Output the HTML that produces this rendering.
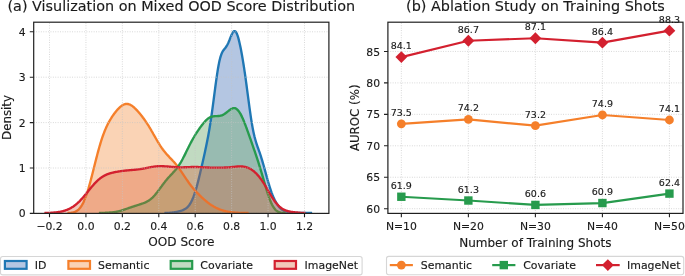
<!DOCTYPE html>
<html lang="en"><head><meta charset="utf-8"><title>OOD Score Distribution and Ablation Study</title>
<style>html,body{margin:0;padding:0;background:#fff;}body{width:685px;height:276px;overflow:hidden;}</style>
</head><body>
<svg width="685" height="276" viewBox="0 0 685 276" style="display:block;font-family:'DejaVu Sans', 'Liberation Sans', sans-serif">
<style>text{stroke:#1a1a1a;stroke-width:0.14px;stroke-linejoin:round}</style>
<rect width="685" height="276" fill="#ffffff"/>
<defs><clipPath id="c1"><rect x="33.7" y="22.2" width="295.2" height="191.2"/></clipPath>
<clipPath id="c2"><rect x="387.9" y="22.2" width="295.1" height="191.2"/></clipPath></defs>
<g clip-path="url(#c1)">
<path d="M164.5 213.1 165.0 213.0 165.5 213.0 166.0 213.0 166.5 213.0 167.0 212.9 167.5 212.9 168.0 212.9 168.5 212.8 169.0 212.8 169.5 212.8 170.0 212.7 170.5 212.7 171.0 212.7 171.5 212.6 172.0 212.6 172.5 212.5 173.0 212.4 173.5 212.4 174.0 212.3 174.5 212.2 175.0 212.2 175.5 212.1 176.0 212.0 176.5 211.9 177.0 211.8 177.5 211.7 178.0 211.6 178.5 211.5 179.0 211.4 179.5 211.2 180.0 211.1 180.5 211.0 181.0 210.8 181.5 210.7 182.0 210.5 182.5 210.3 183.0 210.1 183.5 209.9 184.0 209.6 184.5 209.3 185.0 209.0 185.5 208.7 186.0 208.4 186.5 208.0 187.0 207.6 187.5 207.1 188.0 206.6 188.5 206.0 189.0 205.4 189.5 204.7 190.0 204.0 190.5 203.1 191.0 202.3 191.5 201.3 192.0 200.3 192.5 199.1 193.0 198.0 193.5 196.7 194.0 195.3 194.5 193.9 195.0 192.4 195.5 190.8 196.0 189.2 196.5 187.4 197.0 185.6 197.5 183.8 198.0 181.9 198.5 179.9 199.0 177.9 199.5 175.8 200.0 173.7 200.5 171.6 201.0 169.4 201.5 167.3 202.0 165.1 202.5 162.9 203.0 160.7 203.5 158.4 204.0 156.2 204.5 153.9 205.0 151.7 205.5 149.3 206.0 147.0 206.5 144.6 207.0 142.1 207.5 139.6 208.0 137.0 208.5 134.3 209.0 131.4 209.5 128.5 210.0 125.5 210.5 122.3 211.0 119.0 211.5 115.5 212.0 112.0 212.5 108.3 213.0 104.6 213.5 100.8 214.0 97.0 214.5 93.1 215.0 89.3 215.5 85.5 216.0 81.8 216.5 78.3 217.0 74.8 217.5 71.6 218.0 68.5 218.5 65.7 219.0 63.1 219.5 60.8 220.0 58.7 220.5 56.9 221.0 55.3 221.5 53.9 222.0 52.8 222.5 51.8 223.0 50.9 223.5 50.2 224.0 49.5 224.5 48.9 225.0 48.3 225.5 47.7 226.0 47.0 226.5 46.3 227.0 45.4 227.5 44.5 228.0 43.5 228.5 42.4 229.0 41.2 229.5 40.0 230.0 38.7 230.5 37.4 231.0 36.2 231.5 35.0 232.0 33.9 232.5 33.0 233.0 32.2 233.5 31.6 234.0 31.2 234.5 31.1 235.0 31.2 235.5 31.5 236.0 32.1 236.5 33.0 237.0 34.1 237.5 35.4 238.0 36.9 238.5 38.6 239.0 40.6 239.5 42.7 240.0 44.9 240.5 47.3 241.0 49.8 241.5 52.5 242.0 55.2 242.5 58.1 243.0 61.1 243.5 64.2 244.0 67.4 244.5 70.8 245.0 74.2 245.5 77.7 246.0 81.3 246.5 85.0 247.0 88.8 247.5 92.6 248.0 96.4 248.5 100.2 249.0 103.9 249.5 107.6 250.0 111.2 250.5 114.7 251.0 118.1 251.5 121.2 252.0 124.3 252.5 127.1 253.0 129.7 253.5 132.2 254.0 134.5 254.5 136.6 255.0 138.5 255.5 140.3 256.0 142.0 256.5 143.6 257.0 145.1 257.5 146.6 258.0 148.0 258.5 149.4 259.0 150.8 259.5 152.2 260.0 153.7 260.5 155.2 261.0 156.7 261.5 158.3 262.0 159.9 262.5 161.6 263.0 163.3 263.5 165.0 264.0 166.8 264.5 168.6 265.0 170.4 265.5 172.3 266.0 174.1 266.5 175.9 267.0 177.8 267.5 179.5 268.0 181.3 268.5 183.0 269.0 184.7 269.5 186.3 270.0 187.9 270.5 189.4 271.0 190.9 271.5 192.3 272.0 193.6 272.5 194.9 273.0 196.1 273.5 197.3 274.0 198.4 274.5 199.5 275.0 200.5 275.5 201.4 276.0 202.3 276.5 203.2 277.0 204.0 277.5 204.8 278.0 205.5 278.5 206.1 279.0 206.8 279.5 207.4 280.0 207.9 280.5 208.4 281.0 208.9 281.5 209.3 282.0 209.7 282.5 210.0 283.0 210.3 283.5 210.6 284.0 210.9 284.5 211.1 285.0 211.3 285.5 211.4 286.0 211.6 286.5 211.7 287.0 211.8 287.5 211.9 288.0 212.0 288.5 212.1 289.0 212.2 289.5 212.2 290.0 212.3 290.5 212.4 291.0 212.4 291.5 212.5 292.0 212.5 292.5 212.6 293.0 212.6 293.5 212.7 294.0 212.7 294.5 212.7 295.0 212.8 295.5 212.8 296.0 212.8 296.5 212.9 297.0 212.9 297.5 212.9 298.0 212.9 298.5 212.9 299.0 212.9 299.5 212.9 300.0 212.9 300.5 212.9 301.0 212.9 301.5 212.9 302.0 212.9 302.5 212.9 303.0 212.9 303.5 212.9 304.0 212.9 304.5 212.9 305.0 212.9 305.5 212.9 306.0 212.9 306.5 212.9 307.0 212.9 307.5 212.9 308.0 212.9 308.5 212.9 309.0 213.0 309.5 213.0 310.0 213.0 310.5 213.0 311.0 213.0 311.5 213.0 312.0 213.1 L312.0 213.3 L164.5 213.3 Z" fill="#2a5dac" fill-opacity="0.353" stroke="none"/>
<path d="M67.5 213.1 68.0 213.0 68.5 213.0 69.0 213.0 69.5 213.0 70.0 212.9 70.5 212.9 71.0 212.8 71.5 212.7 72.0 212.7 72.5 212.6 73.0 212.5 73.5 212.3 74.0 212.2 74.5 212.0 75.0 211.8 75.5 211.6 76.0 211.3 76.5 211.1 77.0 210.8 77.5 210.4 78.0 210.0 78.5 209.6 79.0 209.1 79.5 208.5 80.0 208.0 80.5 207.3 81.0 206.6 81.5 205.8 82.0 205.0 82.5 204.1 83.0 203.2 83.5 202.2 84.0 201.1 84.5 199.9 85.0 198.7 85.5 197.4 86.0 196.1 86.5 194.7 87.0 193.2 87.5 191.6 88.0 190.0 88.5 188.4 89.0 186.6 89.5 184.9 90.0 183.1 90.5 181.2 91.0 179.3 91.5 177.4 92.0 175.5 92.5 173.5 93.0 171.5 93.5 169.5 94.0 167.5 94.5 165.5 95.0 163.5 95.5 161.5 96.0 159.6 96.5 157.6 97.0 155.7 97.5 153.8 98.0 151.9 98.5 150.1 99.0 148.3 99.5 146.5 100.0 144.8 100.5 143.1 101.0 141.5 101.5 139.9 102.0 138.4 102.5 136.9 103.0 135.5 103.5 134.1 104.0 132.8 104.5 131.5 105.0 130.3 105.5 129.1 106.0 127.9 106.5 126.8 107.0 125.8 107.5 124.7 108.0 123.7 108.5 122.8 109.0 121.9 109.5 121.0 110.0 120.1 110.5 119.3 111.0 118.4 111.5 117.7 112.0 116.9 112.5 116.1 113.0 115.4 113.5 114.7 114.0 114.0 114.5 113.3 115.0 112.7 115.5 112.0 116.0 111.4 116.5 110.8 117.0 110.2 117.5 109.6 118.0 109.1 118.5 108.6 119.0 108.1 119.5 107.6 120.0 107.1 120.5 106.7 121.0 106.3 121.5 105.9 122.0 105.5 122.5 105.2 123.0 104.9 123.5 104.7 124.0 104.5 124.5 104.3 125.0 104.1 125.5 104.0 126.0 104.0 126.5 103.9 127.0 103.9 127.5 104.0 128.0 104.0 128.5 104.1 129.0 104.3 129.5 104.5 130.0 104.7 130.5 104.9 131.0 105.2 131.5 105.5 132.0 105.8 132.5 106.2 133.0 106.6 133.5 107.0 134.0 107.4 134.5 107.9 135.0 108.3 135.5 108.8 136.0 109.3 136.5 109.9 137.0 110.4 137.5 110.9 138.0 111.5 138.5 112.1 139.0 112.6 139.5 113.2 140.0 113.8 140.5 114.4 141.0 115.1 141.5 115.7 142.0 116.3 142.5 117.0 143.0 117.7 143.5 118.3 144.0 119.0 144.5 119.7 145.0 120.4 145.5 121.1 146.0 121.9 146.5 122.6 147.0 123.4 147.5 124.2 148.0 124.9 148.5 125.7 149.0 126.5 149.5 127.4 150.0 128.2 150.5 129.0 151.0 129.9 151.5 130.8 152.0 131.6 152.5 132.5 153.0 133.4 153.5 134.3 154.0 135.1 154.5 136.0 155.0 136.9 155.5 137.8 156.0 138.7 156.5 139.5 157.0 140.4 157.5 141.2 158.0 142.1 158.5 142.9 159.0 143.7 159.5 144.5 160.0 145.3 160.5 146.1 161.0 146.8 161.5 147.6 162.0 148.3 162.5 149.0 163.0 149.7 163.5 150.3 164.0 151.0 164.5 151.6 165.0 152.2 165.5 152.8 166.0 153.4 166.5 154.0 167.0 154.6 167.5 155.1 168.0 155.7 168.5 156.2 169.0 156.7 169.5 157.3 170.0 157.8 170.5 158.3 171.0 158.8 171.5 159.4 172.0 159.9 172.5 160.4 173.0 161.0 173.5 161.5 174.0 162.1 174.5 162.7 175.0 163.2 175.5 163.8 176.0 164.4 176.5 165.1 177.0 165.7 177.5 166.3 178.0 167.0 178.5 167.7 179.0 168.3 179.5 169.0 180.0 169.7 180.5 170.4 181.0 171.2 181.5 171.9 182.0 172.6 182.5 173.4 183.0 174.1 183.5 174.9 184.0 175.6 184.5 176.4 185.0 177.1 185.5 177.9 186.0 178.6 186.5 179.4 187.0 180.1 187.5 180.8 188.0 181.5 188.5 182.3 189.0 183.0 189.5 183.7 190.0 184.3 190.5 185.0 191.0 185.7 191.5 186.3 192.0 186.9 192.5 187.6 193.0 188.2 193.5 188.8 194.0 189.4 194.5 189.9 195.0 190.5 195.5 191.0 196.0 191.6 196.5 192.1 197.0 192.7 197.5 193.2 198.0 193.7 198.5 194.2 199.0 194.7 199.5 195.2 200.0 195.7 200.5 196.1 201.0 196.6 201.5 197.1 202.0 197.6 202.5 198.0 203.0 198.5 203.5 198.9 204.0 199.4 204.5 199.8 205.0 200.2 205.5 200.7 206.0 201.1 206.5 201.5 207.0 201.9 207.5 202.3 208.0 202.7 208.5 203.1 209.0 203.4 209.5 203.8 210.0 204.2 210.5 204.5 211.0 204.9 211.5 205.2 212.0 205.5 212.5 205.8 213.0 206.1 213.5 206.4 214.0 206.7 214.5 207.0 215.0 207.2 215.5 207.5 216.0 207.8 216.5 208.0 217.0 208.2 217.5 208.5 218.0 208.7 218.5 208.9 219.0 209.1 219.5 209.3 220.0 209.5 220.5 209.7 221.0 209.8 221.5 210.0 222.0 210.2 222.5 210.3 223.0 210.5 223.5 210.6 224.0 210.8 224.5 210.9 225.0 211.0 225.5 211.2 226.0 211.3 226.5 211.4 227.0 211.5 227.5 211.6 228.0 211.7 228.5 211.8 229.0 211.9 229.5 212.0 230.0 212.0 230.5 212.1 231.0 212.2 231.5 212.2 232.0 212.3 232.5 212.3 233.0 212.4 233.5 212.4 234.0 212.5 234.5 212.5 235.0 212.6 235.5 212.6 236.0 212.6 236.5 212.7 237.0 212.7 237.5 212.7 238.0 212.7 238.5 212.8 239.0 212.8 239.5 212.8 240.0 212.8 240.5 212.8 241.0 212.8 241.5 212.9 242.0 212.9 242.5 212.9 243.0 212.9 243.5 212.9 244.0 212.9 244.5 212.9 245.0 213.0 245.5 213.0 246.0 213.0 246.5 213.0 247.0 213.0 247.5 213.0 248.0 213.0 248.5 213.1 L248.5 213.3 L67.5 213.3 Z" fill="#ef7f27" fill-opacity="0.343" stroke="none"/>
<path d="M99.0 213.1 99.5 213.0 100.0 213.0 100.5 213.0 101.0 213.0 101.5 213.0 102.0 212.9 102.5 212.9 103.0 212.9 103.5 212.8 104.0 212.8 104.5 212.8 105.0 212.8 105.5 212.7 106.0 212.7 106.5 212.7 107.0 212.7 107.5 212.6 108.0 212.6 108.5 212.6 109.0 212.6 109.5 212.5 110.0 212.5 110.5 212.5 111.0 212.4 111.5 212.4 112.0 212.3 112.5 212.3 113.0 212.2 113.5 212.2 114.0 212.1 114.5 212.1 115.0 212.0 115.5 211.9 116.0 211.8 116.5 211.7 117.0 211.7 117.5 211.6 118.0 211.4 118.5 211.3 119.0 211.2 119.5 211.1 120.0 211.0 120.5 210.8 121.0 210.7 121.5 210.5 122.0 210.4 122.5 210.2 123.0 210.0 123.5 209.9 124.0 209.7 124.5 209.5 125.0 209.4 125.5 209.2 126.0 209.0 126.5 208.8 127.0 208.7 127.5 208.5 128.0 208.3 128.5 208.1 129.0 207.9 129.5 207.8 130.0 207.6 130.5 207.4 131.0 207.3 131.5 207.1 132.0 206.9 132.5 206.8 133.0 206.6 133.5 206.4 134.0 206.3 134.5 206.1 135.0 205.9 135.5 205.8 136.0 205.6 136.5 205.5 137.0 205.3 137.5 205.2 138.0 205.0 138.5 204.8 139.0 204.7 139.5 204.5 140.0 204.4 140.5 204.2 141.0 204.0 141.5 203.9 142.0 203.7 142.5 203.5 143.0 203.3 143.5 203.2 144.0 203.0 144.5 202.8 145.0 202.6 145.5 202.3 146.0 202.1 146.5 201.9 147.0 201.6 147.5 201.3 148.0 201.0 148.5 200.7 149.0 200.4 149.5 200.1 150.0 199.7 150.5 199.3 151.0 198.9 151.5 198.5 152.0 198.0 152.5 197.6 153.0 197.1 153.5 196.6 154.0 196.0 154.5 195.5 155.0 194.9 155.5 194.3 156.0 193.7 156.5 193.1 157.0 192.4 157.5 191.8 158.0 191.1 158.5 190.5 159.0 189.8 159.5 189.1 160.0 188.4 160.5 187.7 161.0 187.0 161.5 186.4 162.0 185.7 162.5 185.0 163.0 184.3 163.5 183.7 164.0 183.0 164.5 182.4 165.0 181.7 165.5 181.1 166.0 180.5 166.5 179.9 167.0 179.3 167.5 178.7 168.0 178.2 168.5 177.6 169.0 177.0 169.5 176.5 170.0 175.9 170.5 175.4 171.0 174.9 171.5 174.3 172.0 173.8 172.5 173.3 173.0 172.7 173.5 172.2 174.0 171.6 174.5 171.1 175.0 170.5 175.5 169.9 176.0 169.3 176.5 168.7 177.0 168.0 177.5 167.4 178.0 166.7 178.5 165.9 179.0 165.2 179.5 164.4 180.0 163.6 180.5 162.8 181.0 162.0 181.5 161.1 182.0 160.2 182.5 159.3 183.0 158.3 183.5 157.3 184.0 156.4 184.5 155.4 185.0 154.4 185.5 153.4 186.0 152.3 186.5 151.3 187.0 150.3 187.5 149.3 188.0 148.3 188.5 147.2 189.0 146.2 189.5 145.2 190.0 144.3 190.5 143.3 191.0 142.4 191.5 141.4 192.0 140.5 192.5 139.6 193.0 138.7 193.5 137.8 194.0 137.0 194.5 136.1 195.0 135.3 195.5 134.5 196.0 133.7 196.5 132.9 197.0 132.2 197.5 131.4 198.0 130.6 198.5 129.9 199.0 129.2 199.5 128.5 200.0 127.7 200.5 127.1 201.0 126.4 201.5 125.7 202.0 125.0 202.5 124.4 203.0 123.8 203.5 123.1 204.0 122.5 204.5 122.0 205.0 121.4 205.5 120.9 206.0 120.4 206.5 119.9 207.0 119.5 207.5 119.0 208.0 118.6 208.5 118.3 209.0 117.9 209.5 117.6 210.0 117.4 210.5 117.1 211.0 116.9 211.5 116.7 212.0 116.6 212.5 116.5 213.0 116.4 213.5 116.3 214.0 116.2 214.5 116.2 215.0 116.1 215.5 116.1 216.0 116.1 216.5 116.1 217.0 116.1 217.5 116.1 218.0 116.0 218.5 116.0 219.0 116.0 219.5 115.9 220.0 115.8 220.5 115.7 221.0 115.6 221.5 115.4 222.0 115.3 222.5 115.1 223.0 114.8 223.5 114.6 224.0 114.3 224.5 114.0 225.0 113.6 225.5 113.3 226.0 112.9 226.5 112.5 227.0 112.1 227.5 111.7 228.0 111.3 228.5 110.9 229.0 110.5 229.5 110.1 230.0 109.7 230.5 109.4 231.0 109.1 231.5 108.8 232.0 108.6 232.5 108.4 233.0 108.2 233.5 108.1 234.0 108.1 234.5 108.1 235.0 108.2 235.5 108.4 236.0 108.6 236.5 108.9 237.0 109.3 237.5 109.8 238.0 110.3 238.5 110.9 239.0 111.5 239.5 112.3 240.0 113.1 240.5 113.9 241.0 114.9 241.5 115.9 242.0 116.9 242.5 118.0 243.0 119.1 243.5 120.3 244.0 121.5 244.5 122.8 245.0 124.0 245.5 125.3 246.0 126.7 246.5 128.0 247.0 129.4 247.5 130.8 248.0 132.2 248.5 133.6 249.0 135.0 249.5 136.4 250.0 137.8 250.5 139.2 251.0 140.7 251.5 142.1 252.0 143.5 252.5 145.0 253.0 146.4 253.5 147.8 254.0 149.3 254.5 150.7 255.0 152.2 255.5 153.6 256.0 155.1 256.5 156.6 257.0 158.1 257.5 159.6 258.0 161.2 258.5 162.7 259.0 164.3 259.5 165.9 260.0 167.5 260.5 169.2 261.0 170.8 261.5 172.5 262.0 174.2 262.5 175.9 263.0 177.6 263.5 179.3 264.0 181.1 264.5 182.8 265.0 184.5 265.5 186.2 266.0 187.9 266.5 189.6 267.0 191.2 267.5 192.8 268.0 194.3 268.5 195.8 269.0 197.3 269.5 198.6 270.0 200.0 270.5 201.2 271.0 202.4 271.5 203.5 272.0 204.6 272.5 205.5 273.0 206.4 273.5 207.2 274.0 208.0 274.5 208.6 275.0 209.2 275.5 209.8 276.0 210.3 276.5 210.7 277.0 211.1 277.5 211.4 278.0 211.7 278.5 211.9 279.0 212.1 279.5 212.3 280.0 212.4 280.5 212.6 281.0 212.7 281.5 212.8 282.0 212.8 282.5 212.9 283.0 212.9 283.5 213.0 284.0 213.0 284.5 213.0 285.0 213.0 285.5 213.1 L285.5 213.3 L99.0 213.3 Z" fill="#76ad77" fill-opacity="0.454" stroke="none"/>
<path d="M164.5 213.1 165.0 213.0 165.5 213.0 166.0 213.0 166.5 213.0 167.0 212.9 167.5 212.9 168.0 212.9 168.5 212.8 169.0 212.8 169.5 212.8 170.0 212.7 170.5 212.7 171.0 212.7 171.5 212.6 172.0 212.6 172.5 212.5 173.0 212.4 173.5 212.4 174.0 212.3 174.5 212.2 175.0 212.2 175.5 212.1 176.0 212.0 176.5 211.9 177.0 211.8 177.5 211.7 178.0 211.6 178.5 211.5 179.0 211.4 179.5 211.2 180.0 211.1 180.5 211.0 181.0 210.8 181.5 210.7 182.0 210.5 182.5 210.3 183.0 210.1 183.5 209.9 184.0 209.6 184.5 209.3 185.0 209.0 185.5 208.7 186.0 208.4 186.5 208.0 187.0 207.6 187.5 207.1 188.0 206.6 188.5 206.0 189.0 205.4 189.5 204.7 190.0 204.0 190.5 203.1 191.0 202.3 191.5 201.3 192.0 200.3 192.5 199.1 193.0 198.0 193.5 196.7 194.0 195.3 194.5 193.9 195.0 192.4 195.5 190.8 196.0 189.2 196.5 187.4 197.0 185.6 197.5 183.8 198.0 181.9 198.5 179.9 199.0 177.9 199.5 175.8 200.0 173.7 200.5 171.6 201.0 169.4 201.5 167.3 202.0 165.1 202.5 162.9 203.0 160.7 203.5 158.4 204.0 156.2 204.5 153.9 205.0 151.7 205.5 149.3 206.0 147.0 206.5 144.6 207.0 142.1 207.5 139.6 208.0 137.0 208.5 134.3 209.0 131.4 209.5 128.5 210.0 125.5 210.5 122.3 211.0 119.0 211.5 115.5 212.0 112.0 212.5 108.3 213.0 104.6 213.5 100.8 214.0 97.0 214.5 93.1 215.0 89.3 215.5 85.5 216.0 81.8 216.5 78.3 217.0 74.8 217.5 71.6 218.0 68.5 218.5 65.7 219.0 63.1 219.5 60.8 220.0 58.7 220.5 56.9 221.0 55.3 221.5 53.9 222.0 52.8 222.5 51.8 223.0 50.9 223.5 50.2 224.0 49.5 224.5 48.9 225.0 48.3 225.5 47.7 226.0 47.0 226.5 46.3 227.0 45.4 227.5 44.5 228.0 43.5 228.5 42.4 229.0 41.2 229.5 40.0 230.0 38.7 230.5 37.4 231.0 36.2 231.5 35.0 232.0 33.9 232.5 33.0 233.0 32.2 233.5 31.6 234.0 31.2 234.5 31.1 235.0 31.2 235.5 31.5 236.0 32.1 236.5 33.0 237.0 34.1 237.5 35.4 238.0 36.9 238.5 38.6 239.0 40.6 239.5 42.7 240.0 44.9 240.5 47.3 241.0 49.8 241.5 52.5 242.0 55.2 242.5 58.1 243.0 61.1 243.5 64.2 244.0 67.4 244.5 70.8 245.0 74.2 245.5 77.7 246.0 81.3 246.5 85.0 247.0 88.8 247.5 92.6 248.0 96.4 248.5 100.2 249.0 103.9 249.5 107.6 250.0 111.2 250.5 114.7 251.0 118.1 251.5 121.2 252.0 124.3 252.5 127.1 253.0 129.7 253.5 132.2 254.0 134.5 254.5 136.6 255.0 138.5 255.5 140.3 256.0 142.0 256.5 143.6 257.0 145.1 257.5 146.6 258.0 148.0 258.5 149.4 259.0 150.8 259.5 152.2 260.0 153.7 260.5 155.2 261.0 156.7 261.5 158.3 262.0 159.9 262.5 161.6 263.0 163.3 263.5 165.0 264.0 166.8 264.5 168.6 265.0 170.4 265.5 172.3 266.0 174.1 266.5 175.9 267.0 177.8 267.5 179.5 268.0 181.3 268.5 183.0 269.0 184.7 269.5 186.3 270.0 187.9 270.5 189.4 271.0 190.9 271.5 192.3 272.0 193.6 272.5 194.9 273.0 196.1 273.5 197.3 274.0 198.4 274.5 199.5 275.0 200.5 275.5 201.4 276.0 202.3 276.5 203.2 277.0 204.0 277.5 204.8 278.0 205.5 278.5 206.1 279.0 206.8 279.5 207.4 280.0 207.9 280.5 208.4 281.0 208.9 281.5 209.3 282.0 209.7 282.5 210.0 283.0 210.3 283.5 210.6 284.0 210.9 284.5 211.1 285.0 211.3 285.5 211.4 286.0 211.6 286.5 211.7 287.0 211.8 287.5 211.9 288.0 212.0 288.5 212.1 289.0 212.2 289.5 212.2 290.0 212.3 290.5 212.4 291.0 212.4 291.5 212.5 292.0 212.5 292.5 212.6 293.0 212.6 293.5 212.7 294.0 212.7 294.5 212.7 295.0 212.8 295.5 212.8 296.0 212.8 296.5 212.9 297.0 212.9 297.5 212.9 298.0 212.9 298.5 212.9 299.0 212.9 299.5 212.9 300.0 212.9 300.5 212.9 301.0 212.9 301.5 212.9 302.0 212.9 302.5 212.9 303.0 212.9 303.5 212.9 304.0 212.9 304.5 212.9 305.0 212.9 305.5 212.9 306.0 212.9 306.5 212.9 307.0 212.9 307.5 212.9 308.0 212.9 308.5 212.9 309.0 213.0 309.5 213.0 310.0 213.0 310.5 213.0 311.0 213.0 311.5 213.0 312.0 213.1" fill="none" stroke="#1f77b4" stroke-width="2.35" stroke-linejoin="round" stroke-linecap="butt"/>
<path d="M67.5 213.1 68.0 213.0 68.5 213.0 69.0 213.0 69.5 213.0 70.0 212.9 70.5 212.9 71.0 212.8 71.5 212.7 72.0 212.7 72.5 212.6 73.0 212.5 73.5 212.3 74.0 212.2 74.5 212.0 75.0 211.8 75.5 211.6 76.0 211.3 76.5 211.1 77.0 210.8 77.5 210.4 78.0 210.0 78.5 209.6 79.0 209.1 79.5 208.5 80.0 208.0 80.5 207.3 81.0 206.6 81.5 205.8 82.0 205.0 82.5 204.1 83.0 203.2 83.5 202.2 84.0 201.1 84.5 199.9 85.0 198.7 85.5 197.4 86.0 196.1 86.5 194.7 87.0 193.2 87.5 191.6 88.0 190.0 88.5 188.4 89.0 186.6 89.5 184.9 90.0 183.1 90.5 181.2 91.0 179.3 91.5 177.4 92.0 175.5 92.5 173.5 93.0 171.5 93.5 169.5 94.0 167.5 94.5 165.5 95.0 163.5 95.5 161.5 96.0 159.6 96.5 157.6 97.0 155.7 97.5 153.8 98.0 151.9 98.5 150.1 99.0 148.3 99.5 146.5 100.0 144.8 100.5 143.1 101.0 141.5 101.5 139.9 102.0 138.4 102.5 136.9 103.0 135.5 103.5 134.1 104.0 132.8 104.5 131.5 105.0 130.3 105.5 129.1 106.0 127.9 106.5 126.8 107.0 125.8 107.5 124.7 108.0 123.7 108.5 122.8 109.0 121.9 109.5 121.0 110.0 120.1 110.5 119.3 111.0 118.4 111.5 117.7 112.0 116.9 112.5 116.1 113.0 115.4 113.5 114.7 114.0 114.0 114.5 113.3 115.0 112.7 115.5 112.0 116.0 111.4 116.5 110.8 117.0 110.2 117.5 109.6 118.0 109.1 118.5 108.6 119.0 108.1 119.5 107.6 120.0 107.1 120.5 106.7 121.0 106.3 121.5 105.9 122.0 105.5 122.5 105.2 123.0 104.9 123.5 104.7 124.0 104.5 124.5 104.3 125.0 104.1 125.5 104.0 126.0 104.0 126.5 103.9 127.0 103.9 127.5 104.0 128.0 104.0 128.5 104.1 129.0 104.3 129.5 104.5 130.0 104.7 130.5 104.9 131.0 105.2 131.5 105.5 132.0 105.8 132.5 106.2 133.0 106.6 133.5 107.0 134.0 107.4 134.5 107.9 135.0 108.3 135.5 108.8 136.0 109.3 136.5 109.9 137.0 110.4 137.5 110.9 138.0 111.5 138.5 112.1 139.0 112.6 139.5 113.2 140.0 113.8 140.5 114.4 141.0 115.1 141.5 115.7 142.0 116.3 142.5 117.0 143.0 117.7 143.5 118.3 144.0 119.0 144.5 119.7 145.0 120.4 145.5 121.1 146.0 121.9 146.5 122.6 147.0 123.4 147.5 124.2 148.0 124.9 148.5 125.7 149.0 126.5 149.5 127.4 150.0 128.2 150.5 129.0 151.0 129.9 151.5 130.8 152.0 131.6 152.5 132.5 153.0 133.4 153.5 134.3 154.0 135.1 154.5 136.0 155.0 136.9 155.5 137.8 156.0 138.7 156.5 139.5 157.0 140.4 157.5 141.2 158.0 142.1 158.5 142.9 159.0 143.7 159.5 144.5 160.0 145.3 160.5 146.1 161.0 146.8 161.5 147.6 162.0 148.3 162.5 149.0 163.0 149.7 163.5 150.3 164.0 151.0 164.5 151.6 165.0 152.2 165.5 152.8 166.0 153.4 166.5 154.0 167.0 154.6 167.5 155.1 168.0 155.7 168.5 156.2 169.0 156.7 169.5 157.3 170.0 157.8 170.5 158.3 171.0 158.8 171.5 159.4 172.0 159.9 172.5 160.4 173.0 161.0 173.5 161.5 174.0 162.1 174.5 162.7 175.0 163.2 175.5 163.8 176.0 164.4 176.5 165.1 177.0 165.7 177.5 166.3 178.0 167.0 178.5 167.7 179.0 168.3 179.5 169.0 180.0 169.7 180.5 170.4 181.0 171.2 181.5 171.9 182.0 172.6 182.5 173.4 183.0 174.1 183.5 174.9 184.0 175.6 184.5 176.4 185.0 177.1 185.5 177.9 186.0 178.6 186.5 179.4 187.0 180.1 187.5 180.8 188.0 181.5 188.5 182.3 189.0 183.0 189.5 183.7 190.0 184.3 190.5 185.0 191.0 185.7 191.5 186.3 192.0 186.9 192.5 187.6 193.0 188.2 193.5 188.8 194.0 189.4 194.5 189.9 195.0 190.5 195.5 191.0 196.0 191.6 196.5 192.1 197.0 192.7 197.5 193.2 198.0 193.7 198.5 194.2 199.0 194.7 199.5 195.2 200.0 195.7 200.5 196.1 201.0 196.6 201.5 197.1 202.0 197.6 202.5 198.0 203.0 198.5 203.5 198.9 204.0 199.4 204.5 199.8 205.0 200.2 205.5 200.7 206.0 201.1 206.5 201.5 207.0 201.9 207.5 202.3 208.0 202.7 208.5 203.1 209.0 203.4 209.5 203.8 210.0 204.2 210.5 204.5 211.0 204.9 211.5 205.2 212.0 205.5 212.5 205.8 213.0 206.1 213.5 206.4 214.0 206.7 214.5 207.0 215.0 207.2 215.5 207.5 216.0 207.8 216.5 208.0 217.0 208.2 217.5 208.5 218.0 208.7 218.5 208.9 219.0 209.1 219.5 209.3 220.0 209.5 220.5 209.7 221.0 209.8 221.5 210.0 222.0 210.2 222.5 210.3 223.0 210.5 223.5 210.6 224.0 210.8 224.5 210.9 225.0 211.0 225.5 211.2 226.0 211.3 226.5 211.4 227.0 211.5 227.5 211.6 228.0 211.7 228.5 211.8 229.0 211.9 229.5 212.0 230.0 212.0 230.5 212.1 231.0 212.2 231.5 212.2 232.0 212.3 232.5 212.3 233.0 212.4 233.5 212.4 234.0 212.5 234.5 212.5 235.0 212.6 235.5 212.6 236.0 212.6 236.5 212.7 237.0 212.7 237.5 212.7 238.0 212.7 238.5 212.8 239.0 212.8 239.5 212.8 240.0 212.8 240.5 212.8 241.0 212.8 241.5 212.9 242.0 212.9 242.5 212.9 243.0 212.9 243.5 212.9 244.0 212.9 244.5 212.9 245.0 213.0 245.5 213.0 246.0 213.0 246.5 213.0 247.0 213.0 247.5 213.0 248.0 213.0 248.5 213.1" fill="none" stroke="#f57f2a" stroke-width="2.35" stroke-linejoin="round" stroke-linecap="butt"/>
<path d="M99.0 213.1 99.5 213.0 100.0 213.0 100.5 213.0 101.0 213.0 101.5 213.0 102.0 212.9 102.5 212.9 103.0 212.9 103.5 212.8 104.0 212.8 104.5 212.8 105.0 212.8 105.5 212.7 106.0 212.7 106.5 212.7 107.0 212.7 107.5 212.6 108.0 212.6 108.5 212.6 109.0 212.6 109.5 212.5 110.0 212.5 110.5 212.5 111.0 212.4 111.5 212.4 112.0 212.3 112.5 212.3 113.0 212.2 113.5 212.2 114.0 212.1 114.5 212.1 115.0 212.0 115.5 211.9 116.0 211.8 116.5 211.7 117.0 211.7 117.5 211.6 118.0 211.4 118.5 211.3 119.0 211.2 119.5 211.1 120.0 211.0 120.5 210.8 121.0 210.7 121.5 210.5 122.0 210.4 122.5 210.2 123.0 210.0 123.5 209.9 124.0 209.7 124.5 209.5 125.0 209.4 125.5 209.2 126.0 209.0 126.5 208.8 127.0 208.7 127.5 208.5 128.0 208.3 128.5 208.1 129.0 207.9 129.5 207.8 130.0 207.6 130.5 207.4 131.0 207.3 131.5 207.1 132.0 206.9 132.5 206.8 133.0 206.6 133.5 206.4 134.0 206.3 134.5 206.1 135.0 205.9 135.5 205.8 136.0 205.6 136.5 205.5 137.0 205.3 137.5 205.2 138.0 205.0 138.5 204.8 139.0 204.7 139.5 204.5 140.0 204.4 140.5 204.2 141.0 204.0 141.5 203.9 142.0 203.7 142.5 203.5 143.0 203.3 143.5 203.2 144.0 203.0 144.5 202.8 145.0 202.6 145.5 202.3 146.0 202.1 146.5 201.9 147.0 201.6 147.5 201.3 148.0 201.0 148.5 200.7 149.0 200.4 149.5 200.1 150.0 199.7 150.5 199.3 151.0 198.9 151.5 198.5 152.0 198.0 152.5 197.6 153.0 197.1 153.5 196.6 154.0 196.0 154.5 195.5 155.0 194.9 155.5 194.3 156.0 193.7 156.5 193.1 157.0 192.4 157.5 191.8 158.0 191.1 158.5 190.5 159.0 189.8 159.5 189.1 160.0 188.4 160.5 187.7 161.0 187.0 161.5 186.4 162.0 185.7 162.5 185.0 163.0 184.3 163.5 183.7 164.0 183.0 164.5 182.4 165.0 181.7 165.5 181.1 166.0 180.5 166.5 179.9 167.0 179.3 167.5 178.7 168.0 178.2 168.5 177.6 169.0 177.0 169.5 176.5 170.0 175.9 170.5 175.4 171.0 174.9 171.5 174.3 172.0 173.8 172.5 173.3 173.0 172.7 173.5 172.2 174.0 171.6 174.5 171.1 175.0 170.5 175.5 169.9 176.0 169.3 176.5 168.7 177.0 168.0 177.5 167.4 178.0 166.7 178.5 165.9 179.0 165.2 179.5 164.4 180.0 163.6 180.5 162.8 181.0 162.0 181.5 161.1 182.0 160.2 182.5 159.3 183.0 158.3 183.5 157.3 184.0 156.4 184.5 155.4 185.0 154.4 185.5 153.4 186.0 152.3 186.5 151.3 187.0 150.3 187.5 149.3 188.0 148.3 188.5 147.2 189.0 146.2 189.5 145.2 190.0 144.3 190.5 143.3 191.0 142.4 191.5 141.4 192.0 140.5 192.5 139.6 193.0 138.7 193.5 137.8 194.0 137.0 194.5 136.1 195.0 135.3 195.5 134.5 196.0 133.7 196.5 132.9 197.0 132.2 197.5 131.4 198.0 130.6 198.5 129.9 199.0 129.2 199.5 128.5 200.0 127.7 200.5 127.1 201.0 126.4 201.5 125.7 202.0 125.0 202.5 124.4 203.0 123.8 203.5 123.1 204.0 122.5 204.5 122.0 205.0 121.4 205.5 120.9 206.0 120.4 206.5 119.9 207.0 119.5 207.5 119.0 208.0 118.6 208.5 118.3 209.0 117.9 209.5 117.6 210.0 117.4 210.5 117.1 211.0 116.9 211.5 116.7 212.0 116.6 212.5 116.5 213.0 116.4 213.5 116.3 214.0 116.2 214.5 116.2 215.0 116.1 215.5 116.1 216.0 116.1 216.5 116.1 217.0 116.1 217.5 116.1 218.0 116.0 218.5 116.0 219.0 116.0 219.5 115.9 220.0 115.8 220.5 115.7 221.0 115.6 221.5 115.4 222.0 115.3 222.5 115.1 223.0 114.8 223.5 114.6 224.0 114.3 224.5 114.0 225.0 113.6 225.5 113.3 226.0 112.9 226.5 112.5 227.0 112.1 227.5 111.7 228.0 111.3 228.5 110.9 229.0 110.5 229.5 110.1 230.0 109.7 230.5 109.4 231.0 109.1 231.5 108.8 232.0 108.6 232.5 108.4 233.0 108.2 233.5 108.1 234.0 108.1 234.5 108.1 235.0 108.2 235.5 108.4 236.0 108.6 236.5 108.9 237.0 109.3 237.5 109.8 238.0 110.3 238.5 110.9 239.0 111.5 239.5 112.3 240.0 113.1 240.5 113.9 241.0 114.9 241.5 115.9 242.0 116.9 242.5 118.0 243.0 119.1 243.5 120.3 244.0 121.5 244.5 122.8 245.0 124.0 245.5 125.3 246.0 126.7 246.5 128.0 247.0 129.4 247.5 130.8 248.0 132.2 248.5 133.6 249.0 135.0 249.5 136.4 250.0 137.8 250.5 139.2 251.0 140.7 251.5 142.1 252.0 143.5 252.5 145.0 253.0 146.4 253.5 147.8 254.0 149.3 254.5 150.7 255.0 152.2 255.5 153.6 256.0 155.1 256.5 156.6 257.0 158.1 257.5 159.6 258.0 161.2 258.5 162.7 259.0 164.3 259.5 165.9 260.0 167.5 260.5 169.2 261.0 170.8 261.5 172.5 262.0 174.2 262.5 175.9 263.0 177.6 263.5 179.3 264.0 181.1 264.5 182.8 265.0 184.5 265.5 186.2 266.0 187.9 266.5 189.6 267.0 191.2 267.5 192.8 268.0 194.3 268.5 195.8 269.0 197.3 269.5 198.6 270.0 200.0 270.5 201.2 271.0 202.4 271.5 203.5 272.0 204.6 272.5 205.5 273.0 206.4 273.5 207.2 274.0 208.0 274.5 208.6 275.0 209.2 275.5 209.8 276.0 210.3 276.5 210.7 277.0 211.1 277.5 211.4 278.0 211.7 278.5 211.9 279.0 212.1 279.5 212.3 280.0 212.4 280.5 212.6 281.0 212.7 281.5 212.8 282.0 212.8 282.5 212.9 283.0 212.9 283.5 213.0 284.0 213.0 284.5 213.0 285.0 213.0 285.5 213.1" fill="none" stroke="#279b4d" stroke-width="2.35" stroke-linejoin="round" stroke-linecap="butt"/>
<path d="M44.5 213.1 45.0 213.0 45.5 213.0 46.0 213.0 46.5 213.0 47.0 213.0 47.5 212.9 48.0 212.9 48.5 212.9 49.0 212.9 49.5 212.8 50.0 212.8 50.5 212.8 51.0 212.7 51.5 212.7 52.0 212.7 52.5 212.6 53.0 212.6 53.5 212.6 54.0 212.5 54.5 212.5 55.0 212.4 55.5 212.4 56.0 212.3 56.5 212.3 57.0 212.2 57.5 212.2 58.0 212.1 58.5 212.0 59.0 211.9 59.5 211.9 60.0 211.8 60.5 211.7 61.0 211.6 61.5 211.5 62.0 211.4 62.5 211.3 63.0 211.1 63.5 211.0 64.0 210.9 64.5 210.7 65.0 210.6 65.5 210.4 66.0 210.2 66.5 210.0 67.0 209.8 67.5 209.6 68.0 209.4 68.5 209.2 69.0 209.0 69.5 208.7 70.0 208.5 70.5 208.2 71.0 207.9 71.5 207.6 72.0 207.3 72.5 207.0 73.0 206.7 73.5 206.4 74.0 206.0 74.5 205.6 75.0 205.3 75.5 204.9 76.0 204.5 76.5 204.0 77.0 203.6 77.5 203.2 78.0 202.7 78.5 202.2 79.0 201.8 79.5 201.3 80.0 200.8 80.5 200.2 81.0 199.7 81.5 199.2 82.0 198.6 82.5 198.1 83.0 197.5 83.5 196.9 84.0 196.3 84.5 195.7 85.0 195.1 85.5 194.5 86.0 193.9 86.5 193.3 87.0 192.7 87.5 192.0 88.0 191.4 88.5 190.8 89.0 190.2 89.5 189.6 90.0 188.9 90.5 188.3 91.0 187.7 91.5 187.1 92.0 186.5 92.5 185.9 93.0 185.3 93.5 184.8 94.0 184.2 94.5 183.7 95.0 183.1 95.5 182.6 96.0 182.1 96.5 181.6 97.0 181.1 97.5 180.6 98.0 180.2 98.5 179.7 99.0 179.3 99.5 178.9 100.0 178.5 100.5 178.1 101.0 177.8 101.5 177.4 102.0 177.1 102.5 176.7 103.0 176.4 103.5 176.1 104.0 175.9 104.5 175.6 105.0 175.3 105.5 175.1 106.0 174.9 106.5 174.6 107.0 174.4 107.5 174.2 108.0 174.0 108.5 173.9 109.0 173.7 109.5 173.5 110.0 173.4 110.5 173.2 111.0 173.1 111.5 172.9 112.0 172.8 112.5 172.7 113.0 172.6 113.5 172.5 114.0 172.4 114.5 172.2 115.0 172.1 115.5 172.0 116.0 171.9 116.5 171.9 117.0 171.8 117.5 171.7 118.0 171.6 118.5 171.5 119.0 171.4 119.5 171.4 120.0 171.3 120.5 171.2 121.0 171.1 121.5 171.1 122.0 171.0 122.5 170.9 123.0 170.9 123.5 170.8 124.0 170.7 124.5 170.7 125.0 170.6 125.5 170.6 126.0 170.5 126.5 170.5 127.0 170.4 127.5 170.4 128.0 170.3 128.5 170.3 129.0 170.2 129.5 170.2 130.0 170.1 130.5 170.1 131.0 170.1 131.5 170.0 132.0 170.0 132.5 169.9 133.0 169.9 133.5 169.8 134.0 169.8 134.5 169.7 135.0 169.7 135.5 169.7 136.0 169.6 136.5 169.6 137.0 169.5 137.5 169.4 138.0 169.4 138.5 169.3 139.0 169.3 139.5 169.2 140.0 169.1 140.5 169.1 141.0 169.0 141.5 168.9 142.0 168.8 142.5 168.7 143.0 168.7 143.5 168.6 144.0 168.5 144.5 168.4 145.0 168.3 145.5 168.2 146.0 168.1 146.5 168.0 147.0 167.9 147.5 167.8 148.0 167.7 148.5 167.6 149.0 167.5 149.5 167.4 150.0 167.3 150.5 167.2 151.0 167.1 151.5 167.0 152.0 166.9 152.5 166.8 153.0 166.8 153.5 166.7 154.0 166.6 154.5 166.6 155.0 166.5 155.5 166.4 156.0 166.4 156.5 166.3 157.0 166.3 157.5 166.2 158.0 166.2 158.5 166.2 159.0 166.2 159.5 166.2 160.0 166.1 160.5 166.1 161.0 166.1 161.5 166.1 162.0 166.1 162.5 166.2 163.0 166.2 163.5 166.2 164.0 166.2 164.5 166.3 165.0 166.3 165.5 166.3 166.0 166.4 166.5 166.4 167.0 166.4 167.5 166.5 168.0 166.5 168.5 166.6 169.0 166.6 169.5 166.7 170.0 166.7 170.5 166.7 171.0 166.8 171.5 166.8 172.0 166.9 172.5 166.9 173.0 167.0 173.5 167.0 174.0 167.0 174.5 167.1 175.0 167.1 175.5 167.1 176.0 167.1 176.5 167.2 177.0 167.2 177.5 167.2 178.0 167.2 178.5 167.2 179.0 167.3 179.5 167.3 180.0 167.3 180.5 167.3 181.0 167.3 181.5 167.3 182.0 167.3 182.5 167.3 183.0 167.3 183.5 167.3 184.0 167.2 184.5 167.2 185.0 167.2 185.5 167.2 186.0 167.2 186.5 167.2 187.0 167.2 187.5 167.1 188.0 167.1 188.5 167.1 189.0 167.1 189.5 167.1 190.0 167.1 190.5 167.1 191.0 167.0 191.5 167.0 192.0 167.0 192.5 167.0 193.0 167.0 193.5 167.0 194.0 167.0 194.5 167.0 195.0 167.0 195.5 167.0 196.0 167.0 196.5 167.0 197.0 167.0 197.5 167.0 198.0 167.0 198.5 167.1 199.0 167.1 199.5 167.1 200.0 167.1 200.5 167.1 201.0 167.2 201.5 167.2 202.0 167.2 202.5 167.2 203.0 167.3 203.5 167.3 204.0 167.3 204.5 167.3 205.0 167.4 205.5 167.4 206.0 167.4 206.5 167.4 207.0 167.5 207.5 167.5 208.0 167.5 208.5 167.5 209.0 167.5 209.5 167.6 210.0 167.6 210.5 167.6 211.0 167.6 211.5 167.6 212.0 167.6 212.5 167.6 213.0 167.6 213.5 167.6 214.0 167.6 214.5 167.6 215.0 167.6 215.5 167.6 216.0 167.6 216.5 167.6 217.0 167.6 217.5 167.6 218.0 167.6 218.5 167.6 219.0 167.6 219.5 167.6 220.0 167.6 220.5 167.6 221.0 167.6 221.5 167.6 222.0 167.6 222.5 167.6 223.0 167.6 223.5 167.6 224.0 167.6 224.5 167.5 225.0 167.5 225.5 167.5 226.0 167.5 226.5 167.5 227.0 167.4 227.5 167.4 228.0 167.4 228.5 167.3 229.0 167.3 229.5 167.3 230.0 167.2 230.5 167.2 231.0 167.1 231.5 167.1 232.0 167.0 232.5 167.0 233.0 166.9 233.5 166.9 234.0 166.8 234.5 166.8 235.0 166.7 235.5 166.7 236.0 166.6 236.5 166.6 237.0 166.5 237.5 166.5 238.0 166.5 238.5 166.4 239.0 166.4 239.5 166.4 240.0 166.4 240.5 166.4 241.0 166.4 241.5 166.4 242.0 166.5 242.5 166.5 243.0 166.6 243.5 166.6 244.0 166.7 244.5 166.8 245.0 166.9 245.5 167.0 246.0 167.1 246.5 167.3 247.0 167.5 247.5 167.6 248.0 167.8 248.5 168.0 249.0 168.2 249.5 168.5 250.0 168.7 250.5 169.0 251.0 169.3 251.5 169.6 252.0 169.9 252.5 170.3 253.0 170.7 253.5 171.0 254.0 171.4 254.5 171.9 255.0 172.3 255.5 172.8 256.0 173.2 256.5 173.7 257.0 174.3 257.5 174.8 258.0 175.4 258.5 176.0 259.0 176.6 259.5 177.2 260.0 177.9 260.5 178.5 261.0 179.2 261.5 179.9 262.0 180.6 262.5 181.4 263.0 182.2 263.5 182.9 264.0 183.7 264.5 184.5 265.0 185.4 265.5 186.2 266.0 187.0 266.5 187.9 267.0 188.7 267.5 189.6 268.0 190.4 268.5 191.3 269.0 192.1 269.5 193.0 270.0 193.8 270.5 194.7 271.0 195.5 271.5 196.3 272.0 197.1 272.5 197.9 273.0 198.7 273.5 199.4 274.0 200.1 274.5 200.9 275.0 201.5 275.5 202.2 276.0 202.8 276.5 203.5 277.0 204.0 277.5 204.6 278.0 205.2 278.5 205.7 279.0 206.1 279.5 206.6 280.0 207.0 280.5 207.5 281.0 207.8 281.5 208.2 282.0 208.5 282.5 208.9 283.0 209.2 283.5 209.4 284.0 209.7 284.5 209.9 285.0 210.1 285.5 210.3 286.0 210.5 286.5 210.7 287.0 210.9 287.5 211.0 288.0 211.1 288.5 211.3 289.0 211.4 289.5 211.5 290.0 211.6 290.5 211.7 291.0 211.8 291.5 211.9 292.0 211.9 292.5 212.0 293.0 212.1 293.5 212.1 294.0 212.2 294.5 212.2 295.0 212.3 295.5 212.3 296.0 212.4 296.5 212.4 297.0 212.5 297.5 212.5 298.0 212.6 298.5 212.6 299.0 212.7 299.5 212.7 300.0 212.7 300.5 212.8 301.0 212.8 301.5 212.8 302.0 212.9 302.5 212.9 303.0 212.9 303.5 213.0 304.0 213.0 304.5 213.0 305.0 213.0 305.5 213.1 L305.5 213.3 L44.5 213.3 Z" fill="#da5c33" fill-opacity="0.342" stroke="none"/>
<path d="M44.5 213.1 45.0 213.0 45.5 213.0 46.0 213.0 46.5 213.0 47.0 213.0 47.5 212.9 48.0 212.9 48.5 212.9 49.0 212.9 49.5 212.8 50.0 212.8 50.5 212.8 51.0 212.7 51.5 212.7 52.0 212.7 52.5 212.6 53.0 212.6 53.5 212.6 54.0 212.5 54.5 212.5 55.0 212.4 55.5 212.4 56.0 212.3 56.5 212.3 57.0 212.2 57.5 212.2 58.0 212.1 58.5 212.0 59.0 211.9 59.5 211.9 60.0 211.8 60.5 211.7 61.0 211.6 61.5 211.5 62.0 211.4 62.5 211.3 63.0 211.1 63.5 211.0 64.0 210.9 64.5 210.7 65.0 210.6 65.5 210.4 66.0 210.2 66.5 210.0 67.0 209.8 67.5 209.6 68.0 209.4 68.5 209.2 69.0 209.0 69.5 208.7 70.0 208.5 70.5 208.2 71.0 207.9 71.5 207.6 72.0 207.3 72.5 207.0 73.0 206.7 73.5 206.4 74.0 206.0 74.5 205.6 75.0 205.3 75.5 204.9 76.0 204.5 76.5 204.0 77.0 203.6 77.5 203.2 78.0 202.7 78.5 202.2 79.0 201.8 79.5 201.3 80.0 200.8 80.5 200.2 81.0 199.7 81.5 199.2 82.0 198.6 82.5 198.1 83.0 197.5 83.5 196.9 84.0 196.3 84.5 195.7 85.0 195.1 85.5 194.5 86.0 193.9 86.5 193.3 87.0 192.7 87.5 192.0 88.0 191.4 88.5 190.8 89.0 190.2 89.5 189.6 90.0 188.9 90.5 188.3 91.0 187.7 91.5 187.1 92.0 186.5 92.5 185.9 93.0 185.3 93.5 184.8 94.0 184.2 94.5 183.7 95.0 183.1 95.5 182.6 96.0 182.1 96.5 181.6 97.0 181.1 97.5 180.6 98.0 180.2 98.5 179.7 99.0 179.3 99.5 178.9 100.0 178.5 100.5 178.1 101.0 177.8 101.5 177.4 102.0 177.1 102.5 176.7 103.0 176.4 103.5 176.1 104.0 175.9 104.5 175.6 105.0 175.3 105.5 175.1 106.0 174.9 106.5 174.6 107.0 174.4 107.5 174.2 108.0 174.0 108.5 173.9 109.0 173.7 109.5 173.5 110.0 173.4 110.5 173.2 111.0 173.1 111.5 172.9 112.0 172.8 112.5 172.7 113.0 172.6 113.5 172.5 114.0 172.4 114.5 172.2 115.0 172.1 115.5 172.0 116.0 171.9 116.5 171.9 117.0 171.8 117.5 171.7 118.0 171.6 118.5 171.5 119.0 171.4 119.5 171.4 120.0 171.3 120.5 171.2 121.0 171.1 121.5 171.1 122.0 171.0 122.5 170.9 123.0 170.9 123.5 170.8 124.0 170.7 124.5 170.7 125.0 170.6 125.5 170.6 126.0 170.5 126.5 170.5 127.0 170.4 127.5 170.4 128.0 170.3 128.5 170.3 129.0 170.2 129.5 170.2 130.0 170.1 130.5 170.1 131.0 170.1 131.5 170.0 132.0 170.0 132.5 169.9 133.0 169.9 133.5 169.8 134.0 169.8 134.5 169.7 135.0 169.7 135.5 169.7 136.0 169.6 136.5 169.6 137.0 169.5 137.5 169.4 138.0 169.4 138.5 169.3 139.0 169.3 139.5 169.2 140.0 169.1 140.5 169.1 141.0 169.0 141.5 168.9 142.0 168.8 142.5 168.7 143.0 168.7 143.5 168.6 144.0 168.5 144.5 168.4 145.0 168.3 145.5 168.2 146.0 168.1 146.5 168.0 147.0 167.9 147.5 167.8 148.0 167.7 148.5 167.6 149.0 167.5 149.5 167.4 150.0 167.3 150.5 167.2 151.0 167.1 151.5 167.0 152.0 166.9 152.5 166.8 153.0 166.8 153.5 166.7 154.0 166.6 154.5 166.6 155.0 166.5 155.5 166.4 156.0 166.4 156.5 166.3 157.0 166.3 157.5 166.2 158.0 166.2 158.5 166.2 159.0 166.2 159.5 166.2 160.0 166.1 160.5 166.1 161.0 166.1 161.5 166.1 162.0 166.1 162.5 166.2 163.0 166.2 163.5 166.2 164.0 166.2 164.5 166.3 165.0 166.3 165.5 166.3 166.0 166.4 166.5 166.4 167.0 166.4 167.5 166.5 168.0 166.5 168.5 166.6 169.0 166.6 169.5 166.7 170.0 166.7 170.5 166.7 171.0 166.8 171.5 166.8 172.0 166.9 172.5 166.9 173.0 167.0 173.5 167.0 174.0 167.0 174.5 167.1 175.0 167.1 175.5 167.1 176.0 167.1 176.5 167.2 177.0 167.2 177.5 167.2 178.0 167.2 178.5 167.2 179.0 167.3 179.5 167.3 180.0 167.3 180.5 167.3 181.0 167.3 181.5 167.3 182.0 167.3 182.5 167.3 183.0 167.3 183.5 167.3 184.0 167.2 184.5 167.2 185.0 167.2 185.5 167.2 186.0 167.2 186.5 167.2 187.0 167.2 187.5 167.1 188.0 167.1 188.5 167.1 189.0 167.1 189.5 167.1 190.0 167.1 190.5 167.1 191.0 167.0 191.5 167.0 192.0 167.0 192.5 167.0 193.0 167.0 193.5 167.0 194.0 167.0 194.5 167.0 195.0 167.0 195.5 167.0 196.0 167.0 196.5 167.0 197.0 167.0 197.5 167.0 198.0 167.0 198.5 167.1 199.0 167.1 199.5 167.1 200.0 167.1 200.5 167.1 201.0 167.2 201.5 167.2 202.0 167.2 202.5 167.2 203.0 167.3 203.5 167.3 204.0 167.3 204.5 167.3 205.0 167.4 205.5 167.4 206.0 167.4 206.5 167.4 207.0 167.5 207.5 167.5 208.0 167.5 208.5 167.5 209.0 167.5 209.5 167.6 210.0 167.6 210.5 167.6 211.0 167.6 211.5 167.6 212.0 167.6 212.5 167.6 213.0 167.6 213.5 167.6 214.0 167.6 214.5 167.6 215.0 167.6 215.5 167.6 216.0 167.6 216.5 167.6 217.0 167.6 217.5 167.6 218.0 167.6 218.5 167.6 219.0 167.6 219.5 167.6 220.0 167.6 220.5 167.6 221.0 167.6 221.5 167.6 222.0 167.6 222.5 167.6 223.0 167.6 223.5 167.6 224.0 167.6 224.5 167.5 225.0 167.5 225.5 167.5 226.0 167.5 226.5 167.5 227.0 167.4 227.5 167.4 228.0 167.4 228.5 167.3 229.0 167.3 229.5 167.3 230.0 167.2 230.5 167.2 231.0 167.1 231.5 167.1 232.0 167.0 232.5 167.0 233.0 166.9 233.5 166.9 234.0 166.8 234.5 166.8 235.0 166.7 235.5 166.7 236.0 166.6 236.5 166.6 237.0 166.5 237.5 166.5 238.0 166.5 238.5 166.4 239.0 166.4 239.5 166.4 240.0 166.4 240.5 166.4 241.0 166.4 241.5 166.4 242.0 166.5 242.5 166.5 243.0 166.6 243.5 166.6 244.0 166.7 244.5 166.8 245.0 166.9 245.5 167.0 246.0 167.1 246.5 167.3 247.0 167.5 247.5 167.6 248.0 167.8 248.5 168.0 249.0 168.2 249.5 168.5 250.0 168.7 250.5 169.0 251.0 169.3 251.5 169.6 252.0 169.9 252.5 170.3 253.0 170.7 253.5 171.0 254.0 171.4 254.5 171.9 255.0 172.3 255.5 172.8 256.0 173.2 256.5 173.7 257.0 174.3 257.5 174.8 258.0 175.4 258.5 176.0 259.0 176.6 259.5 177.2 260.0 177.9 260.5 178.5 261.0 179.2 261.5 179.9 262.0 180.6 262.5 181.4 263.0 182.2 263.5 182.9 264.0 183.7 264.5 184.5 265.0 185.4 265.5 186.2 266.0 187.0 266.5 187.9 267.0 188.7 267.5 189.6 268.0 190.4 268.5 191.3 269.0 192.1 269.5 193.0 270.0 193.8 270.5 194.7 271.0 195.5 271.5 196.3 272.0 197.1 272.5 197.9 273.0 198.7 273.5 199.4 274.0 200.1 274.5 200.9 275.0 201.5 275.5 202.2 276.0 202.8 276.5 203.5 277.0 204.0 277.5 204.6 278.0 205.2 278.5 205.7 279.0 206.1 279.5 206.6 280.0 207.0 280.5 207.5 281.0 207.8 281.5 208.2 282.0 208.5 282.5 208.9 283.0 209.2 283.5 209.4 284.0 209.7 284.5 209.9 285.0 210.1 285.5 210.3 286.0 210.5 286.5 210.7 287.0 210.9 287.5 211.0 288.0 211.1 288.5 211.3 289.0 211.4 289.5 211.5 290.0 211.6 290.5 211.7 291.0 211.8 291.5 211.9 292.0 211.9 292.5 212.0 293.0 212.1 293.5 212.1 294.0 212.2 294.5 212.2 295.0 212.3 295.5 212.3 296.0 212.4 296.5 212.4 297.0 212.5 297.5 212.5 298.0 212.6 298.5 212.6 299.0 212.7 299.5 212.7 300.0 212.7 300.5 212.8 301.0 212.8 301.5 212.8 302.0 212.9 302.5 212.9 303.0 212.9 303.5 213.0 304.0 213.0 304.5 213.0 305.0 213.0 305.5 213.1" fill="none" stroke="#d3202f" stroke-width="2.35" stroke-linejoin="round" stroke-linecap="butt"/>
</g>
<path d="M49.5 213.4V22.2M85.93 213.4V22.2M122.36 213.4V22.2M158.79 213.4V22.2M195.21 213.4V22.2M231.64 213.4V22.2M268.07 213.4V22.2M304.5 213.4V22.2M33.7 213.4H328.9M33.7 168H328.9M33.7 122.6H328.9M33.7 77.2H328.9M33.7 31.8H328.9" fill="none" stroke="#c4c4c4" stroke-width="0.9" stroke-dasharray="0.9 1.5" opacity="0.8"/>
<path d="M49.5 213.4v3.9M85.93 213.4v3.9M122.36 213.4v3.9M158.79 213.4v3.9M195.21 213.4v3.9M231.64 213.4v3.9M268.07 213.4v3.9M304.5 213.4v3.9M33.7 213.4h-3.9M33.7 168h-3.9M33.7 122.6h-3.9M33.7 77.2h-3.9M33.7 31.8h-3.9" fill="none" stroke="#202020" stroke-width="1.1"/>
<rect x="33.7" y="22.2" width="295.2" height="191.2" fill="none" stroke="#202020" stroke-width="1.2"/>
<text x="49.5" y="230.2" font-size="10.8" text-anchor="middle" fill="#1a1a1a">−0.2</text>
<text x="85.93" y="230.2" font-size="10.8" text-anchor="middle" fill="#1a1a1a">0.0</text>
<text x="122.36" y="230.2" font-size="10.8" text-anchor="middle" fill="#1a1a1a">0.2</text>
<text x="158.79" y="230.2" font-size="10.8" text-anchor="middle" fill="#1a1a1a">0.4</text>
<text x="195.21" y="230.2" font-size="10.8" text-anchor="middle" fill="#1a1a1a">0.6</text>
<text x="231.64" y="230.2" font-size="10.8" text-anchor="middle" fill="#1a1a1a">0.8</text>
<text x="268.07" y="230.2" font-size="10.8" text-anchor="middle" fill="#1a1a1a">1.0</text>
<text x="304.5" y="230.2" font-size="10.8" text-anchor="middle" fill="#1a1a1a">1.2</text>
<text x="25.5" y="217.45" font-size="10.8" text-anchor="end" fill="#1a1a1a">0</text>
<text x="25.5" y="172.05" font-size="10.8" text-anchor="end" fill="#1a1a1a">1</text>
<text x="25.5" y="126.65" font-size="10.8" text-anchor="end" fill="#1a1a1a">2</text>
<text x="25.5" y="81.25" font-size="10.8" text-anchor="end" fill="#1a1a1a">3</text>
<text x="25.5" y="35.85" font-size="10.8" text-anchor="end" fill="#1a1a1a">4</text>
<text x="181.3" y="246.2" font-size="12.1" text-anchor="middle" fill="#1a1a1a">OOD Score</text>
<text transform="translate(11.1 117.5) rotate(-90)" font-size="11.8" text-anchor="middle" fill="#1a1a1a">Density</text>
<text x="181.3" y="11.1" font-size="14.38" text-anchor="middle" fill="#1a1a1a">(a) Visulization on Mixed OOD Score Distribution</text>
<path d="M401.35 213.4V22.2M468.37 213.4V22.2M535.39 213.4V22.2M602.41 213.4V22.2M669.43 213.4V22.2M387.9 208.7H683M387.9 177.25H683M387.9 145.8H683M387.9 114.35H683M387.9 82.9H683M387.9 51.45H683" fill="none" stroke="#c4c4c4" stroke-width="0.9" stroke-dasharray="0.9 1.5" opacity="0.8"/>
<path d="M401.35 123.78 L468.37 119.38 L535.39 125.67 L602.41 114.98 L669.43 120.01" fill="none" stroke="#f57f2a" stroke-width="2.2" stroke-linejoin="round"/>
<circle cx="401.35" cy="123.78" r="4.4" fill="#f57f2a"/>
<circle cx="468.37" cy="119.38" r="4.4" fill="#f57f2a"/>
<circle cx="535.39" cy="125.67" r="4.4" fill="#f57f2a"/>
<circle cx="602.41" cy="114.98" r="4.4" fill="#f57f2a"/>
<circle cx="669.43" cy="120.01" r="4.4" fill="#f57f2a"/>
<path d="M401.35 196.75 L468.37 200.52 L535.39 204.93 L602.41 203.04 L669.43 193.6" fill="none" stroke="#279b4d" stroke-width="2.2" stroke-linejoin="round"/>
<rect x="397.15" y="192.55" width="8.4" height="8.4" fill="#279b4d"/>
<rect x="464.17" y="196.32" width="8.4" height="8.4" fill="#279b4d"/>
<rect x="531.19" y="200.73" width="8.4" height="8.4" fill="#279b4d"/>
<rect x="598.21" y="198.84" width="8.4" height="8.4" fill="#279b4d"/>
<rect x="665.23" y="189.4" width="8.4" height="8.4" fill="#279b4d"/>
<path d="M401.35 57.11 L468.37 40.76 L535.39 38.24 L602.41 42.64 L669.43 30.69" fill="none" stroke="#d3202f" stroke-width="2.2" stroke-linejoin="round"/>
<path d="M401.35 51.21l5.9 5.9l-5.9 5.9l-5.9 -5.9z" fill="#d3202f"/>
<path d="M468.37 34.86l5.9 5.9l-5.9 5.9l-5.9 -5.9z" fill="#d3202f"/>
<path d="M535.39 32.34l5.9 5.9l-5.9 5.9l-5.9 -5.9z" fill="#d3202f"/>
<path d="M602.41 36.74l5.9 5.9l-5.9 5.9l-5.9 -5.9z" fill="#d3202f"/>
<path d="M669.43 24.79l5.9 5.9l-5.9 5.9l-5.9 -5.9z" fill="#d3202f"/>
<path d="M401.35 213.4v3.9M468.37 213.4v3.9M535.39 213.4v3.9M602.41 213.4v3.9M669.43 213.4v3.9M387.9 208.7h-3.9M387.9 177.25h-3.9M387.9 145.8h-3.9M387.9 114.35h-3.9M387.9 82.9h-3.9M387.9 51.45h-3.9" fill="none" stroke="#202020" stroke-width="1.1"/>
<rect x="387.9" y="22.2" width="295.1" height="191.2" fill="none" stroke="#202020" stroke-width="1.2"/>
<text x="401.35" y="115.78" font-size="9.5" text-anchor="middle" fill="#1a1a1a">73.5</text>
<text x="468.37" y="111.38" font-size="9.5" text-anchor="middle" fill="#1a1a1a">74.2</text>
<text x="535.39" y="117.67" font-size="9.5" text-anchor="middle" fill="#1a1a1a">73.2</text>
<text x="602.41" y="106.98" font-size="9.5" text-anchor="middle" fill="#1a1a1a">74.9</text>
<text x="669.43" y="112.01" font-size="9.5" text-anchor="middle" fill="#1a1a1a">74.1</text>
<text x="401.35" y="188.75" font-size="9.5" text-anchor="middle" fill="#1a1a1a">61.9</text>
<text x="468.37" y="192.52" font-size="9.5" text-anchor="middle" fill="#1a1a1a">61.3</text>
<text x="535.39" y="196.93" font-size="9.5" text-anchor="middle" fill="#1a1a1a">60.6</text>
<text x="602.41" y="195.04" font-size="9.5" text-anchor="middle" fill="#1a1a1a">60.9</text>
<text x="669.43" y="185.6" font-size="9.5" text-anchor="middle" fill="#1a1a1a">62.4</text>
<text x="401.35" y="49.11" font-size="9.5" text-anchor="middle" fill="#1a1a1a">84.1</text>
<text x="468.37" y="32.76" font-size="9.5" text-anchor="middle" fill="#1a1a1a">86.7</text>
<text x="535.39" y="30.24" font-size="9.5" text-anchor="middle" fill="#1a1a1a">87.1</text>
<text x="602.41" y="34.64" font-size="9.5" text-anchor="middle" fill="#1a1a1a">86.4</text>
<text x="669.43" y="22.69" font-size="9.5" text-anchor="middle" fill="#1a1a1a">88.3</text>
<text x="401.35" y="230.2" font-size="10.8" text-anchor="middle" fill="#1a1a1a">N=10</text>
<text x="468.37" y="230.2" font-size="10.8" text-anchor="middle" fill="#1a1a1a">N=20</text>
<text x="535.39" y="230.2" font-size="10.8" text-anchor="middle" fill="#1a1a1a">N=30</text>
<text x="602.41" y="230.2" font-size="10.8" text-anchor="middle" fill="#1a1a1a">N=40</text>
<text x="669.43" y="230.2" font-size="10.8" text-anchor="middle" fill="#1a1a1a">N=50</text>
<text x="380.1" y="212.75" font-size="10.8" text-anchor="end" fill="#1a1a1a">60</text>
<text x="380.1" y="181.3" font-size="10.8" text-anchor="end" fill="#1a1a1a">65</text>
<text x="380.1" y="149.85" font-size="10.8" text-anchor="end" fill="#1a1a1a">70</text>
<text x="380.1" y="118.4" font-size="10.8" text-anchor="end" fill="#1a1a1a">75</text>
<text x="380.1" y="86.95" font-size="10.8" text-anchor="end" fill="#1a1a1a">80</text>
<text x="380.1" y="55.5" font-size="10.8" text-anchor="end" fill="#1a1a1a">85</text>
<text x="535.35" y="246.7" font-size="12.03" text-anchor="middle" fill="#1a1a1a">Number of Training Shots</text>
<text transform="translate(358.9 117.8) rotate(-90)" font-size="11.8" text-anchor="middle" fill="#1a1a1a">AUROC (%)</text>
<text x="535.45" y="11.1" font-size="14.38" text-anchor="middle" fill="#1a1a1a">(b) Ablation Study on Training Shots</text>
<rect x="0.5" y="256.5" width="361.6" height="18.4" rx="2.2" ry="2.2" fill="#ffffff" stroke="#d6d6d6" stroke-width="1.1"/>
<rect x="4.9" y="261" width="21.7" height="7.8" fill="#2a5dac" fill-opacity="0.353" stroke="none"/>
<rect x="4.9" y="261" width="21.7" height="7.8" fill="none" stroke="#1f77b4" stroke-width="2.2"/>
<text x="34.7" y="268.9" font-size="10.95" fill="#1a1a1a">ID</text>
<rect x="68.4" y="261" width="21.6" height="7.8" fill="#ef7f27" fill-opacity="0.343" stroke="none"/>
<rect x="68.4" y="261" width="21.6" height="7.8" fill="none" stroke="#f57f2a" stroke-width="2.2"/>
<text x="98.1" y="268.9" font-size="10.95" fill="#1a1a1a">Semantic</text>
<rect x="170.7" y="261" width="21.5" height="7.8" fill="#76ad77" fill-opacity="0.454" stroke="none"/>
<rect x="170.7" y="261" width="21.5" height="7.8" fill="none" stroke="#279b4d" stroke-width="2.2"/>
<text x="200.3" y="268.9" font-size="10.95" fill="#1a1a1a">Covariate</text>
<rect x="274.7" y="261" width="21.3" height="7.8" fill="#da5c33" fill-opacity="0.342" stroke="none"/>
<rect x="274.7" y="261" width="21.3" height="7.8" fill="none" stroke="#d3202f" stroke-width="2.2"/>
<text x="304.6" y="268.9" font-size="10.95" fill="#1a1a1a">ImageNet</text>
<rect x="386.5" y="256.4" width="297.2" height="18.3" rx="2.2" ry="2.2" fill="#ffffff" stroke="#d6d6d6" stroke-width="1.1"/>
<path d="M389.8 265.1H412.9" stroke="#f57f2a" stroke-width="2.2" fill="none"/>
<circle cx="401.35" cy="265.1" r="4.4" fill="#f57f2a"/>
<text x="420.8" y="268.9" font-size="10.95" fill="#1a1a1a">Semantic</text>
<path d="M492.2 265.1H515.4" stroke="#279b4d" stroke-width="2.2" fill="none"/>
<rect x="499.6" y="260.9" width="8.4" height="8.4" fill="#279b4d"/>
<text x="523.2" y="268.9" font-size="10.95" fill="#1a1a1a">Covariate</text>
<path d="M596 265.1H619.7" stroke="#d3202f" stroke-width="2.2" fill="none"/>
<path d="M607.85 259.2l5.9 5.9l-5.9 5.9l-5.9 -5.9z" fill="#d3202f"/>
<text x="627" y="268.9" font-size="10.95" fill="#1a1a1a">ImageNet</text>
</svg>
</body></html>
